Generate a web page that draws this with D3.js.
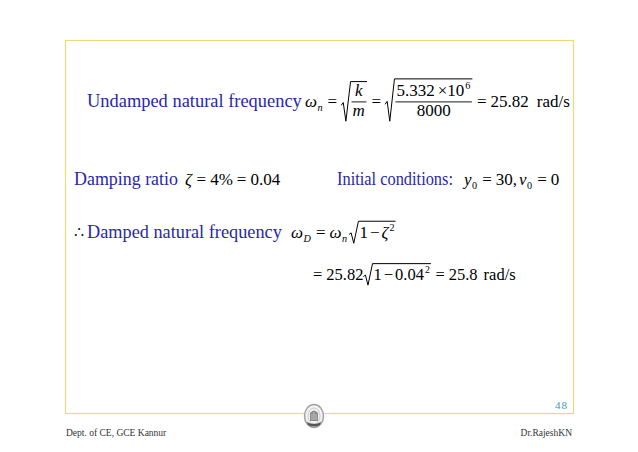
<!DOCTYPE html>
<html><head><meta charset="utf-8">
<script src="https://cdn.jsdelivr.net/npm/d3@7/dist/d3.min.js"></script>
<style>html,body{margin:0;padding:0;background:#fff;}svg{display:block;}</style>
</head><body>
<svg id="c" width="638" height="452"></svg>
<script>
// ---- data ----
const labels = ["Undamped natural frequency", "Damping ratio", "Initial conditions:", "Damped natural frequency"];
const stiffness = [5.332, 6];      // k = 5.332 x 10^6
const mass = [8000];               // m
const naturalFreq = [25.82, 25.8]; // omega_n, omega_D (rad/s)
const dampingRatio = [4, 0.04];    // percent, fraction
const initialConditions = [30, 0]; // y0, v0
const footerTexts = ["Dept. of CE, GCE Kannur", "Dr.RajeshKN", "48"];

// ---- style ----
const BLUE = "#2828a8";
const MATH = "Liberation Serif";
const TEXTF = "Liberation Serif";
const MS = 17;   // math font size
const TS = 18.5; // text font size

const svg = d3.select("#c");

// frame
svg.append("rect").attr("x", 65.5).attr("y", 40.5).attr("width", 508).attr("height", 373)
  .attr("fill", "none").attr("stroke", "#efd77c").attr("stroke-width", 1.2);

// ---- tiny math layout engine ----
function T(s, o) { return Object.assign({ k: "t", s: s }, o || {}); }
function render(g, items, x, y, size) {
  size = size || MS;
  let cx = x, asc = size * 0.68, desc = size * 0.22;
  items.forEach(it => {
    const r = renderOne(g, it, cx, y, size);
    cx += r.w; asc = Math.max(asc, r.asc); desc = Math.max(desc, r.desc);
  });
  return { w: cx - x, asc, desc };
}
function styleSpan(sel, it, fs) {
  return sel.style("font-family", it.fam || MATH).style("font-size", fs + "px")
    .style("font-style", it.i ? "italic" : "normal").attr("fill", it.c || "#000");
}
function renderOne(g, it, x, y, size) {
  if (it.k === "t") {
    const fs = size * (it.scale || 1);
    const el = styleSpan(g.append("text").text(it.s), it, fs);
    let w = el.node().getComputedTextLength();
    if (it.len) {
      // horizontal scale so the glyph box itself has the wanted width
      el.attr("transform", `translate(${x},${y}) scale(${it.len / w},1)`);
      w = it.len;
    } else {
      el.attr("x", x).attr("y", y);
    }
    return { w: w + (it.i ? size * 0.04 : 0), asc: size * 0.68, desc: size * 0.22 };
  }
  if (it.k === "sp") return { w: it.w, asc: 0, desc: 0 };
  if (it.k === "sub" || it.k === "sup") {
    const ss = size * 0.6;
    const dy = it.k === "sub" ? size * 0.26 : -size * 0.42;
    const el = g.append("text").attr("x", x).attr("y", y);
    if (it.base) styleSpan(el.append("tspan").text(it.base.s), it.base, size);
    styleSpan(el.append("tspan").attr("dx", it.k === "sup" ? 1 : 0.5).attr("dy", dy).text(it.script.s), it.script, ss);
    const w = el.node().getComputedTextLength() + 1.5;
    return { w: w, asc: Math.max(size * 0.68, ss * 0.7 - dy), desc: Math.max(size * 0.22, ss * 0.2 + dy) };
  }
  if (it.k === "frac") {
    const ng = g.append("g"), dg = g.append("g");
    const n = render(ng, it.num, 0, 0, size), d = render(dg, it.den, 0, 0, size);
    const W = Math.max(n.w, d.w) + 2;
    const axis = size * 0.3, gap = 2.5;
    const by = y - axis;
    ng.attr("transform", `translate(${x + (W - n.w) / 2},${by - gap - n.desc})`);
    dg.attr("transform", `translate(${x + (W - d.w) / 2},${by + gap + d.asc})`);
    g.append("line").attr("x1", x).attr("x2", x + W).attr("y1", by).attr("y2", by)
      .attr("stroke", "#000").attr("stroke-width", 0.9);
    return { w: W, asc: axis + gap + n.desc + n.asc, desc: -axis + gap + d.asc + d.desc };
  }
  if (it.k === "sqrt") {
    const rw = size * 0.55;
    const b = render(g, it.body, x + rw + 1, y, size);
    const top = y - b.asc - 2.5, bot = y + b.desc + 1.5;
    const h = bot - top;
    const p = d3.path();
    p.moveTo(x, top + h * 0.6);
    p.lineTo(x + rw * 0.22, top + h * 0.53);
    p.lineTo(x + rw * 0.5, bot);
    p.lineTo(x + rw, top);
    p.lineTo(x + rw + b.w + 1.5, top);
    g.append("path").attr("d", p.toString()).attr("fill", "none").attr("stroke", "#000")
      .attr("stroke-width", 1).attr("stroke-linejoin", "miter");
    return { w: rw + b.w + 2, asc: b.asc + 3.5, desc: b.desc + 1.5 };
  }
  return { w: 0, asc: 0, desc: 0 };
}
const sub = (base, script) => ({ k: "sub", base: base, script: script });
const sup = (base, script) => ({ k: "sup", base: base, script: script });
const frac = (num, den) => ({ k: "frac", num: num, den: den });
const sqrt = (body) => ({ k: "sqrt", body: body });
const sp = (w) => ({ k: "sp", w: w });
const EQ = [sp(4), T("="), sp(4)];
const MINUS = [sp(2), T("−"), sp(2)];
const blue = (s, len) => T(s, { fam: TEXTF, c: BLUE, len: len });
const I = s => T(s, { i: true });

const g = svg.append("g");
const fmtPct = v => v + "%";

// Row 1
render(g, [blue(labels[0], 215)], 87, 107, TS);
render(g, [
  sub(I("ω"), I("n")), ...EQ,
  sqrt([frac([I("k")], [I("m")])]), ...EQ,
  sqrt([frac([T(stiffness[0].toFixed(3)), sp(3), sup(T("×10"), T(String(stiffness[1])))],
             [T(String(mass[0]))])]),
  ...EQ, T(naturalFreq[0].toFixed(2)), sp(8), T("rad/s")
], 305, 107, 17);

// Row 2
render(g, [blue(labels[1], 104)], 74, 185, TS);
render(g, [I("ζ"), ...EQ, T(fmtPct(dampingRatio[0])), ...EQ, T(dampingRatio[1].toFixed(2))], 185, 185, MS);
render(g, [blue(labels[2], 116)], 337, 185, TS);
render(g, [sub(I("y"), T("0")), ...EQ, T(initialConditions[0] + ","), sp(2),
  sub(I("v"), T("0")), ...EQ, T(String(initialConditions[1]))], 464, 185, MS);

// Row 3
render(g, [T("∴", { c: "#222", scale: 0.85 }), sp(3), blue(labels[3], 195)], 74, 238, TS);
render(g, [sub(I("ω"), I("D")), ...EQ, sub(I("ω"), I("n")), sp(1),
  sqrt([T("1"), ...MINUS, sup(I("ζ"), T("2"))])], 291, 238, MS);

// Row 4
render(g, [T("="), sp(4), T(naturalFreq[0].toFixed(2)),
  sqrt([T("1"), ...MINUS, sup(T(dampingRatio[1].toFixed(2)), T("2"))]),
  ...EQ, T(naturalFreq[1].toFixed(1)), sp(6), T("rad/s")], 313, 280, 16.5);

// ---- footer ----
svg.append("text").attr("x", 66).attr("y", 436).text(footerTexts[0])
  .style("font-family", TEXTF).style("font-size", "9.5px").attr("fill", "#333");
svg.append("text").attr("x", 572).attr("y", 436).attr("text-anchor", "end").text(footerTexts[1])
  .style("font-family", TEXTF).style("font-size", "9.5px").attr("fill", "#333");
svg.append("text").attr("x", 568).attr("y", 409).attr("text-anchor", "end").text(footerTexts[2])
  .style("font-family", TEXTF).style("font-size", "11px").attr("fill", "#3a9db2").attr("letter-spacing", 1);

// logo emblem
const lg = svg.append("g").attr("transform", "translate(314,416)");
lg.append("ellipse").attr("rx", 9.5).attr("ry", 11.5).attr("fill", "#f2f2f2").attr("stroke", "#a0a0a0").attr("stroke-width", 1.5);
lg.append("ellipse").attr("rx", 6).attr("ry", 8).attr("fill", "none").attr("stroke", "#c0c0c0").attr("stroke-width", 0.8);
lg.append("path").attr("d", "M-4,5 L-4,-3 Q0,-8 4,-3 L4,5 Z").attr("fill", "#8a8a8a");
lg.append("path").attr("d", "M-2,4 L-2,-2 M0,4 L0,-4 M2,4 L2,-2").attr("stroke", "#ddd").attr("stroke-width", 0.7);
lg.append("path").attr("d", "M-7,6 Q0,10 7,6 L6,9 Q0,12 -6,9 Z").attr("fill", "#555");
</script>
</body></html>
